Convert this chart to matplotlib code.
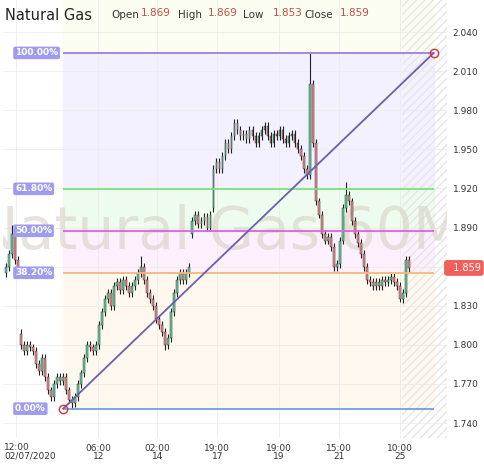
import numpy as np
import matplotlib.pyplot as plt
from matplotlib.patches import Rectangle

# ── data ──────────────────────────────────────────────
closes = [1.860, 1.870, 1.885, 1.865, 1.855, 1.800, 1.795, 1.800, 1.798, 1.795,
          1.785, 1.780, 1.790, 1.775, 1.765, 1.760, 1.770, 1.775, 1.772, 1.775,
          1.765, 1.758, 1.755, 1.760, 1.770, 1.778, 1.790, 1.800, 1.798, 1.795,
          1.800, 1.815, 1.825, 1.835, 1.840, 1.830, 1.845, 1.848, 1.842, 1.850,
          1.845, 1.840, 1.845, 1.850, 1.855, 1.860, 1.850, 1.840, 1.835, 1.830,
          1.820, 1.815, 1.810, 1.800, 1.805, 1.825, 1.840, 1.850, 1.855, 1.850,
          1.855, 1.860, 1.895, 1.900, 1.893, 1.895, 1.898, 1.890, 1.900, 1.935,
          1.940, 1.935, 1.945, 1.955, 1.950, 1.960, 1.970, 1.965, 1.960, 1.962,
          1.958, 1.965, 1.960, 1.955, 1.960, 1.965, 1.968, 1.960, 1.955, 1.962,
          1.960, 1.965, 1.958, 1.955, 1.960, 1.962, 1.955, 1.950, 1.945, 1.935,
          1.930, 2.000, 1.955, 1.910, 1.900, 1.885, 1.880, 1.883, 1.875, 1.860,
          1.862, 1.880, 1.905, 1.915, 1.910, 1.895, 1.885, 1.878, 1.870, 1.860,
          1.850, 1.848, 1.845, 1.848, 1.845, 1.850, 1.848, 1.850, 1.852, 1.848,
          1.845, 1.835, 1.840, 1.865, 1.859]
first_open = 1.855
open_override = {5: 1.808, 62: 1.885, 69: 1.905}   # session gaps
wick = 0.003
high_override = {2: 1.892, 5: 1.812, 45: 1.868, 101: 2.024, 113: 1.925}
low_override = {22: 1.751, 53: 1.796, 131: 1.833}

fib_levels = [0.0, 0.382, 0.5, 0.618, 1.0]
fib_labels = ["0.00%", "38.20%", "50.00%", "61.80%", "100.00%"]
fib_colors = ["#6fa0e0", "#f5b971", "#e060e0", "#7ce07c", "#9b7fe0"]
band_colors = ["#fff8ee", "#fcf0fc", "#eefcef", "#f3f0ff"]
fib_low, fib_high = 1.751, 2.024
fib_start, fib_end = 19, 142.3

yticks = [1.740, 1.770, 1.800, 1.830, 1.860, 1.890, 1.920, 1.950, 1.980, 2.010, 2.040]
xtick_pos = [3.3, 30.7, 50.3, 70.3, 90.7, 110.7, 131]
xtick_labels = ["12:00\n02/07/2020", "06:00\n12", "02:00\n14", "19:00\n17",
                "19:00\n19", "15:00\n21", "10:00\n25"]

# ── figure ────────────────────────────────────────────
fig = plt.figure(figsize=(4.85, 4.71), dpi=100)
ax = fig.add_axes([3 / 485, 1 - 438 / 471, 444 / 485, 438 / 471])
ymin, ymax = 1.7285, 2.0646
xmin, xmax = -1.0, 146.7
ax.set_xlim(xmin, xmax)
ax.set_ylim(ymin, ymax)

# background bands
ax.add_patch(Rectangle((fib_start, fib_high), fib_end - fib_start, ymax - fib_high,
                       color="#fbfdf0", zorder=0))
prices = [fib_low + f * (fib_high - fib_low) for f in fib_levels]
for k in range(4):
    ax.add_patch(Rectangle((fib_start, prices[k]), fib_end - fib_start,
                           prices[k + 1] - prices[k], color=band_colors[k], zorder=0))
ax.add_patch(Rectangle((fib_end - 10.7, ymin), xmax - fib_end + 10.7, ymax - ymin,
                       facecolor="none", edgecolor="#e6e6e6", hatch="////", lw=0, zorder=0.5))

for y in yticks:
    ax.axhline(y, color="#ececec", lw=0.6, zorder=0.6)
for x in xtick_pos:
    ax.axvline(x, color="#ececec", lw=0.6, zorder=0.6)

# watermark
ax.text(71, 1.886, "Natural Gas 60M", fontsize=42, color="#d8d4c8", alpha=0.65,
        ha="center", va="center", zorder=1, clip_on=True)

# candles
opens = [first_open] + closes[:-1]
for i, c in enumerate(closes):
    o = open_override.get(i, opens[i])
    hi = high_override.get(i, max(o, c) + wick)
    lo = low_override.get(i, min(o, c) - wick)
    col = "#5fcf9f" if c >= o else "#f08a8a"
    ax.vlines(i, lo, hi, color="#222222", lw=0.8, zorder=2)
    ax.add_patch(Rectangle((i - 0.3, min(o, c)), 0.6, max(abs(c - o), 0.0008),
                           facecolor=col, edgecolor="#222222", lw=0.3, zorder=3))

# fib lines and labels
for p, lab, col in zip(prices, fib_labels, fib_colors):
    ax.hlines(p, fib_start, fib_end, color=col, lw=1.3, zorder=4)
    ax.text(3.0, p, lab, fontsize=6.5, color="white", fontweight="bold", va="center",
            bbox=dict(boxstyle="round,pad=0.2", fc="#9f9cf0", ec="none"), zorder=6)

ax.plot([fib_start, fib_end], [fib_low, fib_high], color="#6a5fb0", lw=1.3, zorder=5)
ax.plot([fib_start, fib_end], [fib_low, fib_high], "o", ms=6, mfc="none",
        mec="#e03030", mew=1, zorder=6)

# axes styling
for s in ax.spines.values():
    s.set_visible(False)
ax.yaxis.tick_right()
ax.set_yticks(yticks)
ax.set_yticklabels([f"{y:.3f}" if y != 1.860 else "" for y in yticks],
                   fontsize=6.5, color="#333333")
ax.set_xticks(xtick_pos)
ax.set_xticklabels([""] + xtick_labels[1:], fontsize=6.5, color="#333333", linespacing=0.9)
ax.tick_params(length=0, pad=4)
# first label is left-aligned at the chart edge
fig.text(4 / 485, 1 - 443 / 471, xtick_labels[0], fontsize=6.5, color="#333333",
         ha="left", va="top", multialignment="left", linespacing=0.9)

# header
fig.text(5 / 485, 1 - 15 / 471, "Natural Gas", fontsize=10.5, va="center", color="#222222")
hdr = [("Open", 111), ("High", 178), ("Low", 243), ("Close", 304)]
vals = ["1.869", "1.869", "1.853", "1.859"]
for (lab, x), v in zip(hdr, vals):
    fig.text(x / 485, 1 - 15 / 471, lab, fontsize=7.5, va="center", color="#333333")
    fig.text((x + 30 + (6 if lab == "Close" else 0)) / 485, 1 - 13 / 471, v,
             fontsize=7.5, va="center", color="#c0504d")

# price tag
ax.text(1.0, 1.859, "  1.859", transform=ax.get_yaxis_transform(), fontsize=7,
        color="white", va="center", ha="left", clip_on=False,
        bbox=dict(boxstyle="round,pad=0.3", fc="#f0605a", ec="none"), zorder=7)

fig.savefig("out.png", dpi=100)
